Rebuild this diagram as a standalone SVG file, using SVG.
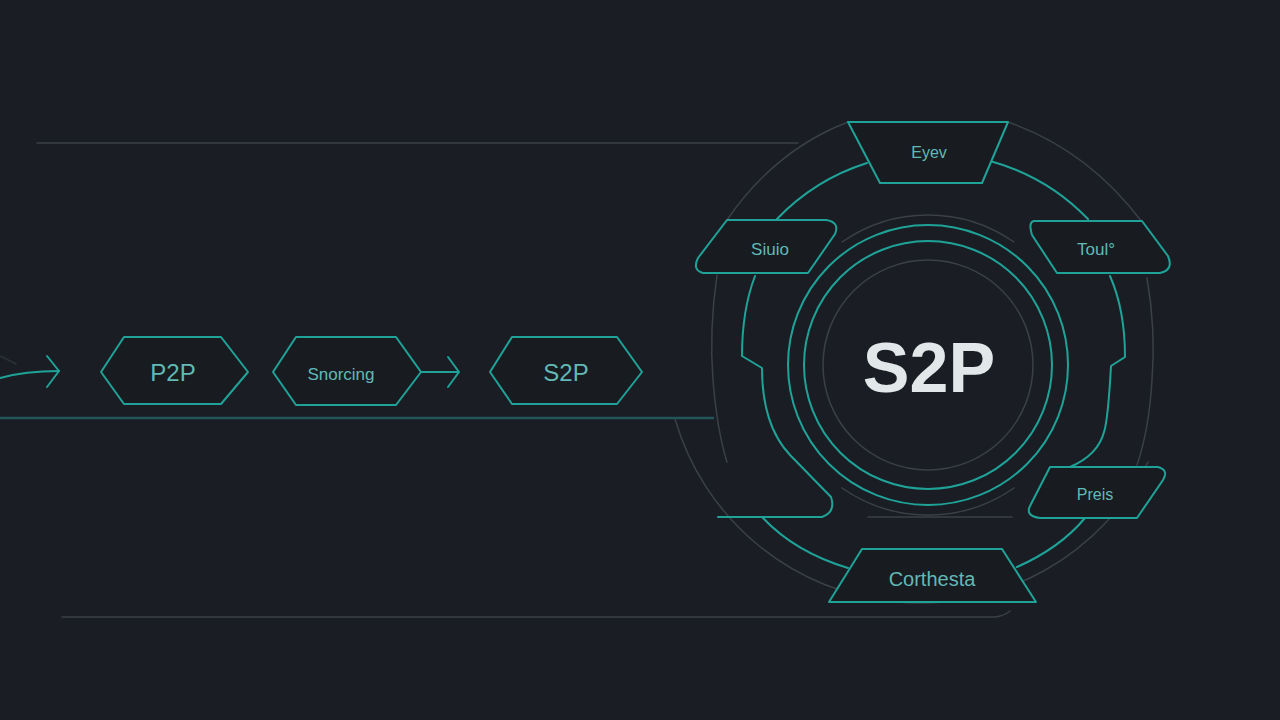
<svg xmlns="http://www.w3.org/2000/svg" width="1280" height="720" viewBox="0 0 1280 720">
<defs>
<style>
.bg{fill:#1a1e24}
.node{fill:#181c21;stroke:#1fa398;stroke-width:2;stroke-linejoin:round}
.teal{fill:none;stroke:#1fa398;stroke-width:2;stroke-linecap:round;stroke-linejoin:round}
.gray{fill:none;stroke:#3b4048;stroke-width:1.5;stroke-linecap:round}
.lbl{font-family:"Liberation Sans",Arial,sans-serif;fill:#62b9b5;text-anchor:middle;dominant-baseline:central}
.big{font-family:"Liberation Sans",Arial,sans-serif;fill:#e2e7ea;text-anchor:middle;font-weight:bold;font-size:70px}
</style>
</defs>
<rect class="bg" x="0" y="0" width="1280" height="720"/>

<g id="connectors">
  <line class="gray" x1="37" y1="143" x2="798" y2="143"/>
  <path class="gray" d="M 62 617 L 995 617 Q 1004 616 1010 611"/>
  <line x1="0" y1="418" x2="714" y2="418" stroke="#235658" stroke-width="2.5"/>
  <!-- left arrow -->
  <path class="gray" d="M 0 356 L 16 364" opacity="0.6"/>
  <path class="teal" d="M 0 378 Q 25 371 59 371"/>
  <path class="teal" d="M 47 356 L 59 371 L 47 387"/>
  <!-- middle arrow -->
  <path class="teal" d="M 421 372 L 458 372"/>
  <path class="teal" d="M 448 357 L 459 372 L 448 387"/>

  <!-- outer gray ring B -->
  <path class="gray" d="M 727 220 Q 775 150 848 122"/>
  <path class="gray" d="M 1008 122 Q 1088 150 1142 222"/>
  <path class="gray" d="M 675 419 A 255 255 0 0 0 1148 462"/>
  <!-- gray ring A -->
  <path class="gray" d="M 717 275 Q 709 330 713 380 Q 717 430 727 462"/>
  <path class="gray" d="M 1147 278 Q 1156 330 1152 380 Q 1149 430 1137 465"/>
  <!-- gray ring D partial -->
  <path class="gray" d="M 842 242 A 150 150 0 0 1 1014 242"/>
  <path class="gray" d="M 1014 488 A 150 150 0 0 1 842 488"/>
  <line class="gray" x1="868" y1="517" x2="1012" y2="517"/>

  <!-- teal ring C -->
  <path class="teal" d="M 777 219 A 214 214 0 0 1 867 163"/>
  <path class="teal" d="M 990 161 A 214 214 0 0 1 1088 219"/>
  <path class="teal" d="M 755 276 Q 742 310 742 356 L 762 368 Q 762 425 790 455 L 831 497 Q 836 512 822 517 L 718 517"/>
  <path class="teal" d="M 763 518 Q 795 552 848 568"/>
  <path class="teal" d="M 1110 276 Q 1125 310 1125 357 L 1111 366 Q 1108 420 1104 432 Q 1098 455 1070 467"/>
  <path class="teal" d="M 1085 518 Q 1060 548 1017 567"/>

  <!-- centre circles -->
  <circle class="teal" cx="928" cy="365" r="140"/>
  <circle class="teal" cx="928" cy="365" r="124"/>
  <circle class="gray" cx="928" cy="365" r="105"/>
</g>

<g id="node-p2p">
  <path class="node" d="M 101 372 L 124 337 L 221 337 L 248 372 L 221 404 L 124 404 Z"/>
  <text class="lbl" x="173" y="372" font-size="24">P2P</text>
</g>
<g id="node-sourcing">
  <path class="node" d="M 273 372 L 296 337 L 396 337 L 421 372 L 396 405 L 296 405 Z"/>
  <text class="lbl" x="341" y="374" font-size="17">Snorcing</text>
</g>
<g id="node-s2p-small">
  <path class="node" d="M 490 372 L 512 337 L 617 337 L 642 372 L 617 404 L 512 404 Z"/>
  <text class="lbl" x="566" y="372" font-size="24">S2P</text>
</g>

<g id="node-eye">
  <path class="node" d="M 848 122 L 1008 122 L 982 183 L 880 183 Z"/>
  <text class="lbl" x="929" y="152" font-size="16">Eyev</text>
</g>
<g id="node-studio">
  <path class="node" d="M 727 220 L 826 220 Q 840 222 835 234 L 808 273 L 703 273 Q 692 270 698 258 Z"/>
  <text class="lbl" x="770" y="249" font-size="17">Siuio</text>
</g>
<g id="node-tool">
  <path class="node" d="M 1034 221 L 1142 221 L 1168 256 Q 1174 270 1160 273 L 1057 273 L 1032 235 Q 1028 222 1034 221 Z"/>
  <text class="lbl" x="1096" y="249" font-size="17">Toul°</text>
</g>
<g id="node-preis">
  <path class="node" d="M 1050 467 L 1158 467 Q 1169 470 1163 480 L 1137 518 L 1040 518 Q 1025 516 1030 506 Z"/>
  <text class="lbl" x="1095" y="494" font-size="16">Preis</text>
</g>
<g id="node-contracts">
  <path class="node" d="M 862 549 L 1002 549 L 1036 602 L 829 602 Z"/>
  <text class="lbl" x="932" y="579" font-size="20">Corthesta</text>
</g>

<g id="node-center">
  <text class="big" x="929" y="392">S2P</text>
</g>
</svg>
